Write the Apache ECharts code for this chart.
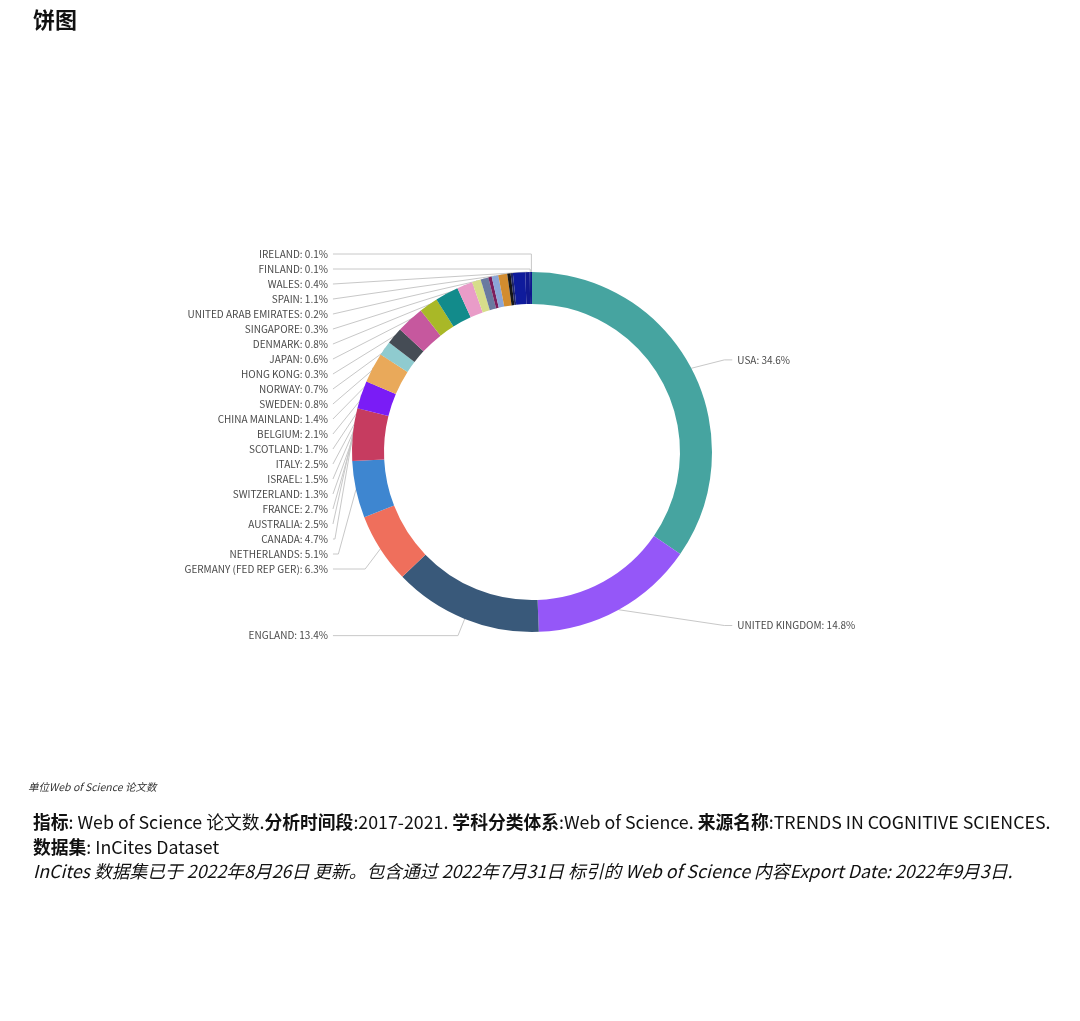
<!DOCTYPE html>
<html>
<head>
<meta charset="utf-8">
<title>饼图</title>
<script src="https://cdn.jsdelivr.net/npm/echarts@6/dist/echarts.min.js"></script>
<style>
    html, body { margin: 0; padding: 0; background: #fff; }
    #chart { width: 1080px; height: 1021px; }
</style>
</head>
<body>
<div id="chart"></div>
<script>
// countries, clockwise from 12 o'clock
const countries = [
    'USA', 'UNITED KINGDOM', 'ENGLAND', 'GERMANY (FED REP GER)', 'NETHERLANDS',
    'CANADA', 'AUSTRALIA', 'FRANCE', 'SWITZERLAND', 'ISRAEL', 'ITALY',
    'SCOTLAND', 'BELGIUM', 'CHINA MAINLAND', 'SWEDEN', 'NORWAY', 'HONG KONG',
    'JAPAN', 'DENMARK', 'SINGAPORE', 'UNITED ARAB EMIRATES', 'SPAIN', 'WALES',
    'FINLAND', 'IRELAND'
]
// share of Web of Science papers, %
const shares = [
    34.6, 14.8, 13.4, 6.3, 5.1,
    4.7, 2.5, 2.7, 1.3, 1.5, 2.5,
    1.7, 2.1, 1.4, 0.8, 0.7, 0.3,
    0.6, 0.8, 0.3, 0.2, 1.1, 0.4,
    0.1, 0.1
]

const palette = [
    '#46a4a0', '#9557f8', '#39597a', '#ef6f5c', '#3e86d0',
    '#c63c60', '#7a1cf6', '#e9a95a', '#8fcbcf', '#454c55', '#c6589e',
    '#a9b827', '#128b8b', '#e99cc8', '#d7dd8b', '#6a7aa0', '#7c1f5d',
    '#8ba6d8', '#d28c2f', '#161616', '#1f2466', '#0f1b9c', '#11198f',
    '#0d1688', '#0e1690'
]

const cjk = "'Noto Sans CJK SC', 'Noto Sans', sans-serif"
const CX = 532
const CY = 452
// right-hand labels sit a bit further out than labelLine alignment puts them
const RIGHT_PUSH = 23

const chart = echarts.init(document.getElementById('chart'), null, { renderer: 'canvas' })

const option = {
    backgroundColor: '#fff',
    color: palette,
    animation: false,
    title: [
        {
            text: '饼图',
            left: 28,
            top: 4,
            textStyle: { fontSize: 22, fontWeight: 'bold', color: '#111', fontFamily: cjk }
        },
        {
            text: '单位Web of Science 论文数',
            left: 23,
            top: 777,
            textStyle: { fontSize: 10.5, fontStyle: 'italic', fontWeight: 'normal', color: '#333', fontFamily: cjk }
        }
    ],
    graphic: [
        {
            type: 'text',
            left: 33,
            top: 810,
            style: {
                text: '{b|指标}: Web of Science 论文数.{b|分析时间段}:2017-2021. {b|学科分类体系}:Web of Science. {b|来源名称}:TRENDS IN COGNITIVE SCIENCES.\n' +
                    '{b|数据集}: InCites Dataset\n' +
                    '{i|InCites 数据集已于 2022年8月26日 更新。包含通过 2022年7月31日 标引的 Web of Science 内容Export Date: 2022年9月3日.}',
                fill: '#111',
                font: "17.8px 'Noto Sans CJK SC'",
                lineHeight: 24.5,
                rich: {
                    b: { fontWeight: 'bold', fontSize: 17.8, fontFamily: 'Noto Sans CJK SC', fill: '#111', lineHeight: 24.5 },
                    i: { fontStyle: 'italic', fontSize: 17.8, fontFamily: 'Noto Sans CJK SC', fill: '#111', lineHeight: 24.5 }
                }
            }
        }
    ],
    series: [
        {
            name: '论文数',
            type: 'pie',
            center: [CX, CY],
            radius: [148, 180],
            startAngle: 90,
            clockwise: true,
            avoidLabelOverlap: true,
            percentPrecision: 1,
            label: {
                show: true,
                formatter: '{b}: {d}%',
                fontSize: 10,
                lineHeight: 13,
                color: '#4a4a4a',
                fontFamily: cjk,
                alignTo: 'labelLine'
            },
            labelLine: {
                show: true,
                length: 18,
                length2: 2,
                lineStyle: { color: '#c8c8c8', width: 1 }
            },
            labelLayout: function (params) {
                if (params.labelRect.x < CX) return {}
                const pts = params.labelLinePoints.map(p => p.slice())
                pts[2][0] += RIGHT_PUSH
                pts[1][0] = pts[2][0] - 8
                return { x: params.labelRect.x + RIGHT_PUSH, labelLinePoints: pts }
            },
            emphasis: { disabled: true },
            data: countries.map((name, i) => ({ name, value: shares[i] }))
        }
    ]
}

chart.setOption(option)
</script>
</body>
</html>
